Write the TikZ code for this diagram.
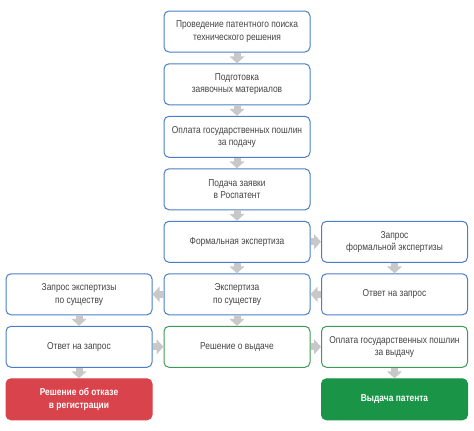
\documentclass[tikz,border=0pt]{standalone}
\usepackage{fontspec}
\setmainfont{Liberation Sans}[FakeStretch=0.84]
\usetikzlibrary{arrows.meta}

\definecolor{bordbleu}{HTML}{4A7FC8}
\definecolor{bordvert}{HTML}{3F9A5A}
\definecolor{rouge}{HTML}{D9434B}
\definecolor{vert}{HTML}{1A9447}
\definecolor{fleche}{HTML}{C8C8C8}
\definecolor{texte}{HTML}{444444}

\tikzset{
    etape/.style={draw=bordbleu, line width=1pt, rounded corners=5pt, fill=white,
        minimum width=146pt, minimum height=41pt, inner sep=2pt,
        align=center, text=texte, font=\fontsize{10}{12.5}\selectfont},
    etapevert/.style={etape, draw=bordvert},
    finrouge/.style={etape, draw=rouge, fill=rouge, text=white,
        font=\fontsize{10}{12.5}\selectfont\bfseries},
    finvert/.style={etape, draw=vert, fill=vert, text=white,
        font=\fontsize{10}{12.5}\selectfont\bfseries},
    fl/.style={draw=fleche, line width=7pt, -{Triangle[width=15pt,length=7pt]}}
}

\begin{document}
\begin{tikzpicture}[x=1pt, y=-1pt]
    \useasboundingbox (0,0) rectangle (474,431);

    % Colonne centrale
    \node[etape] (recherche) at (237,31.5) {Проведение патентного поиска\\технического решения};
    \node[etape] (materiaux) at (237,84.3) {Подготовка\\заявочных материалов};
    \node[etape] (taxedepot) at (237,136.8) {Оплата государственных пошлин\\за подачу};
    \node[etape] (depot) at (237,189.3) {Подача заявки\\в Роспатент};
    \node[etape] (formelle) at (237,241.8) {Формальная экспертиза};
    \node[etape] (fond) at (237,294.3) {Экспертиза\\по существу};
    \node[etapevert] (decision) at (237,346.8) {Решение о выдаче};

    % Colonne droite
    \node[etape] (reqformelle) at (394.5,241.8) {Запрос\\формальной экспертизы};
    \node[etape] (repformelle) at (394.5,294.3) {Ответ на запрос};
    \node[etapevert] (taxebrevet) at (394.5,346.8) {Оплата государственных пошлин\\за выдачу};
    \node[finvert] (brevet) at (394.5,399.3) {Выдача патента};

    % Colonne gauche
    \node[etape] (reqfond) at (79,294.3) {Запрос экспертизы\\по существу};
    \node[etape] (repfond) at (79,346.8) {Ответ на запрос};
    \node[finrouge] (refus) at (79,399.3) {Решение об отказе\\в регистрации};

    % Fleches
    \draw[fl] (recherche) -- (materiaux);
    \draw[fl] (materiaux) -- (taxedepot);
    \draw[fl] (taxedepot) -- (depot);
    \draw[fl] (depot) -- (formelle);
    \draw[fl] (formelle) -- (fond);
    \draw[fl] (fond) -- (decision);
    \draw[fl] (formelle) -- (reqformelle);
    \draw[fl] (reqformelle) -- (repformelle);
    \draw[fl] (repformelle) -- (fond);
    \draw[fl] (fond) -- (reqfond);
    \draw[fl] (reqfond) -- (repfond);
    \draw[fl] (repfond) -- (refus);
    \draw[fl] (repfond) -- (decision);
    \draw[fl] (decision) -- (taxebrevet);
    \draw[fl] (taxebrevet) -- (brevet);

\end{tikzpicture}
\end{document}
